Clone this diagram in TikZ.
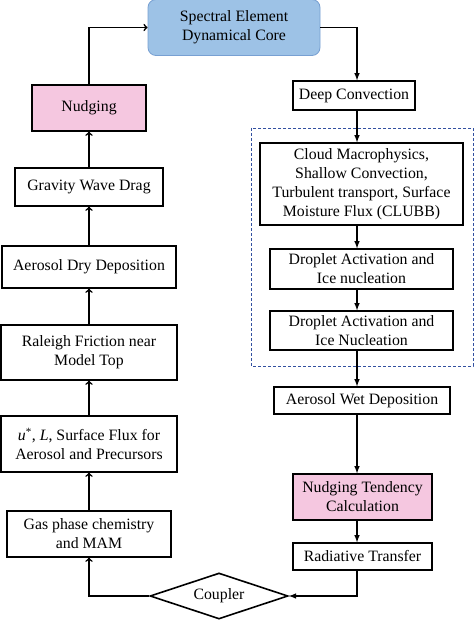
\documentclass[tikz,border=0pt]{standalone}
\usepackage{fontspec}
\setmainfont{Liberation Serif}
\usetikzlibrary{shapes.geometric}
\definecolor{coreblue}{RGB}{157,194,230}
\definecolor{coreedge}{RGB}{120,160,210}
\definecolor{nudgepink}{RGB}{245,199,224}
\definecolor{framblue}{RGB}{50,80,160}
\tikzset{
  box/.style={draw, line width=1.3pt, rectangle, align=center, inner sep=0pt},
  uparr/.style={->, line width=1.6pt},
  dnarr/.style={-latex, line width=1.5pt}
}

\begin{document}
\begin{tikzpicture}[x=1pt, y=-1pt]
      \fontsize{15.8}{19}\selectfont
      \useasboundingbox (0,0) rectangle (474,620);
      % left column
      \node[box, fill=coreblue, draw=coreedge, line width=0.8pt, rounded corners=8pt, minimum width=172pt, minimum height=56pt] (core) at (234,27.5) {Spectral Element\\Dynamical Core};
      \node[box, fill=nudgepink, minimum width=114pt, minimum height=46pt] (nudge) at (89,108) {Nudging};
      \node[box, minimum width=148pt, minimum height=38pt] (grav) at (89,187) {Gravity Wave Drag};
      \node[box, minimum width=174pt, minimum height=42pt] (dry) at (89,267) {Aerosol Dry Deposition};
      \node[box, minimum width=176pt, minimum height=55pt] (rale) at (89,352.5) {Raleigh Friction near\\Model Top};
      \node[box, minimum width=176pt, minimum height=56pt] (ustar) at (89,444) {\textit{u}\textsuperscript{*}, \textit{L}, Surface Flux for\\Aerosol and Precursors};
      \node[box, minimum width=164pt, minimum height=46pt] (gas) at (89,534) {Gas phase chemistry\\and MAM};
      % right column
      \coordinate (rx) at (357,0);
      \draw[framblue, densely dashed, line width=0.9pt] (251,128) rectangle (473,366);
      \node[box, minimum width=122pt, minimum height=29pt] (deep) at (354,95.5) {Deep Convection};
      \node[box, minimum width=203pt, minimum height=82pt] (cloud) at (361.5,184) {Cloud Macrophysics,\\Shallow Convection,\\Turbulent transport, Surface\\Moisture Flux (CLUBB)};
      \node[box, minimum width=183pt, minimum height=40pt] (dropa) at (361.5,269) {Droplet Activation and\\Ice nucleation};
      \node[box, minimum width=183pt, minimum height=39pt] (dropb) at (361.5,330.5) {Droplet Activation and\\Ice Nucleation};
      \node[box, minimum width=176pt, minimum height=27pt] (wet) at (362,400.5) {Aerosol Wet Deposition};
      \node[box, fill=nudgepink, minimum width=139pt, minimum height=46pt] (ntend) at (362.5,497) {Nudging Tendency\\Calculation};
      \node[box, minimum width=139pt, minimum height=27pt] (rad) at (362.5,556.5) {Radiative Transfer};
      \node[draw, diamond, line width=1.6pt, inner sep=0pt, aspect=3, minimum width=138pt, minimum height=46pt] (coupler) at (219,596) {Coupler};

      \path[uparr] (gas) edge (ustar);
      \path[uparr] (ustar) edge (rale);
      \path[uparr] (rale) edge (dry);
      \path[uparr] (dry) edge (grav);
      \path[uparr] (grav) edge (nudge);
      \draw[uparr] (nudge.north) |- (core.west);
      \draw[dnarr] (core.east) -| (deep.north -| rx);
      \path[dnarr] (deep.south -| rx) edge (cloud.north -| rx);
      \path[dnarr] (cloud.south -| rx) edge (dropa.north -| rx);
      \path[dnarr] (dropa.south -| rx) edge (dropb.north -| rx);
      \path[dnarr] (dropb.south -| rx) edge (wet.north -| rx);
      \path[dnarr] (wet.south -| rx) edge (ntend.north -| rx);
      \path[dnarr] (ntend.south -| rx) edge (rad.north -| rx);
      \draw[dnarr] (rad.south -| rx) |- (coupler.east);
      \draw[uparr] (coupler.west) -| (gas.south);
    \end{tikzpicture}
\end{document}
